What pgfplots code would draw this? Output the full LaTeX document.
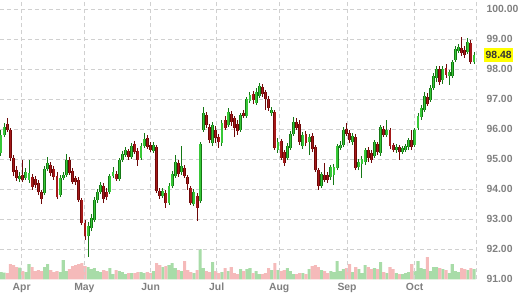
\documentclass[border=0pt]{standalone}
\usepackage{pgfplots}
\pgfplotsset{compat=1.18}
\usepackage{pgfplotstable}
\usepackage{fontspec}
\setmainfont{Liberation Sans}
\definecolor{upout}{RGB}{20,120,20}
\definecolor{upin}{RGB}{55,200,55}
\definecolor{dnout}{RGB}{110,8,8}
\definecolor{dnin}{RGB}{165,25,25}
\definecolor{volup}{RGB}{168,220,168}
\definecolor{voldn}{RGB}{245,186,186}
\definecolor{gridc}{RGB}{208,208,208}
\definecolor{labc}{RGB}{128,128,128}
\definecolor{hl}{RGB}{255,255,0}

% up candles: index, open, high, low, close, volume
\pgfplotstableread{
x o h l c v
0 95.21 95.98 95.11 95.81 7200
1 95.81 96.21 95.74 96.08 6800
6 94.34 94.58 94.24 94.44 11800
8 94.38 94.71 94.31 94.58 7100
9 94.31 94.98 94.21 94.54 15200
14 93.88 94.78 93.81 94.68 12100
15 94.68 95.08 94.61 94.88 15300
19 93.81 94.48 93.74 94.38 7200
20 94.38 94.58 94.31 94.48 19100
21 94.48 95.18 94.41 94.98 8300
28 92.44 92.91 91.74 92.78 12200
29 92.71 93.18 92.61 93.04 10100
30 92.98 93.74 92.91 93.64 11200
31 93.64 94.01 93.54 93.91 8100
32 93.91 94.24 93.84 94.14 7300
35 93.91 94.51 93.84 94.44 11100
36 94.44 94.74 94.38 94.58 5200
38 94.34 95.04 94.28 94.98 8200
39 94.98 95.28 94.91 95.18 7100
40 95.14 95.41 95.08 95.31 5300
42 95.08 95.54 95.01 95.44 6200
45 95.04 95.54 94.98 95.44 7300
46 95.44 95.88 95.38 95.68 6100
49 95.28 95.58 95.21 95.48 8100
52 93.78 94.04 93.71 93.94 12200
54 93.54 94.21 93.48 94.11 14100
55 94.11 94.61 94.04 94.51 16200
56 94.44 95.14 94.38 94.91 11100
58 94.58 95.44 94.48 94.78 8200
62 93.51 94.01 93.44 93.91 6200
64 93.61 95.58 93.54 95.51 30200
65 95.98 96.74 95.91 96.54 11300
68 95.54 96.24 95.44 96.14 17100
71 95.54 96.31 95.44 96.21 7200
73 96.14 96.71 96.08 96.58 8100
77 95.98 96.54 95.91 96.48 10200
79 96.44 97.08 96.38 97.01 10100
80 96.94 97.24 96.88 97.14 11200
82 96.88 97.38 96.81 97.24 8100
83 97.11 97.54 97.04 97.44 5200
87 96.54 96.74 96.44 96.64 9200
89 95.31 95.71 95.21 95.58 9100
92 95.04 95.54 94.98 95.44 11100
93 95.38 95.94 95.31 95.84 8200
94 95.84 96.41 95.78 96.24 5300
97 95.44 95.91 95.34 95.81 6100
99 95.58 95.84 95.14 95.74 10200
103 94.11 94.58 94.04 94.51 9100
106 94.41 94.81 94.31 94.74 8200
107 94.48 94.84 94.14 94.74 7200
108 94.71 95.51 94.64 95.44 18200
109 95.38 95.61 95.31 95.48 8100
110 95.48 96.08 95.41 95.98 10200
113 95.58 95.88 95.48 95.78 7100
115 94.74 95.01 94.64 94.91 10200
116 94.84 95.11 94.38 95.01 6200
117 94.91 95.38 94.81 95.31 14100
120 95.11 95.64 95.04 95.58 11200
122 95.21 96.14 95.11 96.08 17200
124 95.81 96.31 95.74 95.98 6100
127 95.31 95.51 95.21 95.41 6200
129 95.24 95.44 95.18 95.38 5100
130 95.31 95.51 95.24 95.44 6200
131 95.41 95.71 95.31 95.64 7100
133 95.48 96.04 95.41 95.98 8200
134 96.04 96.54 95.98 96.44 18100
135 96.41 96.81 96.31 96.71 11200
136 96.64 97.24 96.58 97.11 10100
138 96.98 97.48 96.91 97.38 8200
139 97.38 97.88 97.31 97.78 12100
140 97.71 98.11 97.58 98.01 12200
142 97.64 98.11 97.51 98.01 10100
144 97.78 97.98 97.48 97.91 6200
145 97.78 98.31 97.71 98.24 15100
146 98.31 98.78 98.24 98.68 8200
147 98.61 98.84 98.54 98.74 7100
150 98.58 99.04 98.51 98.91 9200
152 98.24 98.58 98.18 98.48 10100
}\up

% down candles: index, open, high, low, close, volume
\pgfplotstableread{
x o h l c v
2 96.18 96.38 95.91 95.98 6100
3 95.98 96.04 94.94 95.04 15100
4 95.04 95.14 94.44 94.58 14200
5 94.64 94.78 94.28 94.38 12100
7 94.48 94.98 94.24 94.31 8200
10 94.41 94.51 93.98 94.08 12200
11 94.34 94.44 94.04 94.14 8100
12 94.21 94.31 93.81 93.91 9200
13 93.91 93.98 93.51 93.68 8100
16 94.81 94.91 94.44 94.54 9100
17 94.68 94.78 94.31 94.41 7200
18 94.44 94.58 93.68 93.74 8100
22 94.98 95.08 94.48 94.54 10200
23 94.61 94.71 94.18 94.24 13100
24 94.38 94.44 94.14 94.24 14200
25 94.31 94.41 93.58 93.64 15100
26 93.64 93.71 92.81 92.88 16200
27 92.88 92.98 92.31 92.44 13200
33 94.11 94.21 93.54 93.68 9100
34 93.91 94.04 93.64 93.74 8200
37 94.51 94.61 94.28 94.34 9200
41 95.28 95.34 94.98 95.08 6100
43 95.51 95.61 95.18 95.24 6200
44 95.28 95.38 94.78 94.98 7100
47 95.71 95.81 95.34 95.41 7200
48 95.48 95.58 95.24 95.31 6100
50 95.41 95.48 93.88 93.94 16100
51 93.94 94.04 93.68 93.78 14200
53 93.88 93.98 93.38 93.54 13100
57 94.88 94.98 94.41 94.51 9100
59 94.71 94.81 94.38 94.44 18200
60 94.41 94.48 93.98 94.18 9100
61 94.04 94.11 93.48 93.54 7200
63 93.78 93.88 92.94 93.38 9100
66 96.48 96.58 96.04 96.14 8200
67 96.08 96.18 95.54 95.64 7100
69 95.98 96.11 95.54 95.71 8100
70 95.74 95.84 95.38 95.58 6200
72 96.31 96.44 95.98 96.04 11100
74 96.51 96.61 96.11 96.24 12200
75 96.38 96.44 95.74 96.04 6100
76 96.18 96.31 95.81 95.94 5200
78 96.54 96.64 96.38 96.44 8100
81 97.18 97.28 96.84 96.98 6200
84 97.41 97.51 97.08 97.18 5100
85 97.24 97.31 96.64 97.01 6200
86 97.01 97.11 96.61 96.71 11100
88 96.58 96.64 95.31 95.38 16200
90 95.61 95.68 94.98 95.04 8100
91 95.24 95.31 94.78 94.88 9200
95 96.24 96.38 95.98 96.04 5100
96 96.18 96.31 95.48 95.58 6200
98 95.84 95.94 95.44 95.54 5100
100 95.78 95.88 95.24 95.34 13100
101 95.41 95.48 94.58 94.64 14200
102 94.64 94.71 93.98 94.11 12100
104 94.48 94.88 94.24 94.31 8100
105 94.48 94.58 94.21 94.31 6200
111 96.01 96.21 95.78 95.84 11100
112 95.88 95.98 95.54 95.64 15200
114 95.74 95.84 94.64 94.71 12100
118 95.31 95.41 94.91 95.04 12200
119 95.21 95.31 94.88 94.98 10100
121 95.51 95.58 95.14 95.24 10200
123 96.01 96.11 95.74 95.81 7100
125 95.98 96.04 95.34 95.44 12100
126 95.48 95.54 95.24 95.31 10200
128 95.41 95.48 94.98 95.24 5200
132 95.64 95.98 95.31 95.41 15100
137 97.08 97.21 96.78 96.84 22100
141 98.01 98.11 97.48 97.58 11100
143 98.04 98.18 97.71 97.81 9100
148 98.71 99.08 98.44 98.54 11200
149 98.64 98.78 98.38 98.48 10100
151 98.88 98.98 98.18 98.24 11100
}\dn

\pgfplotsset{
  base/.style={scale only axis, width=476.7pt, height=279.3pt,
    at={(0,0)}, anchor=south west, xmin=-0.32, xmax=152.86},
}

\begin{document}
\begin{tikzpicture}
\useasboundingbox (0,-20.7pt) rectangle (526pt,279.3pt);
% volume
\begin{axis}[base, ymin=0, ymax=279300, hide axis]
\addplot[ybar, bar width=1, bar shift=0pt, fill=volup, draw=none] table[x=x,y=v]{\up};
\addplot[ybar, bar width=1, bar shift=0pt, fill=voldn, draw=none] table[x=x,y=v]{\dn};
\end{axis}
% price
\begin{axis}[base, ymin=91, ymax=100.31,
  axis line style={draw=none}, major tick length=0pt, tick style={draw=none},
  ytick={92,93,...,100}, extra y ticks={91}, extra y tick style={grid=none},
  xtick={6.65,26.8,48.1,69.3,89.4,111.2,132.9},
  xticklabels={Apr,May,Jun,Jul,Aug,Sep,Oct},
  extra x ticks={152.86}, extra x tick labels={}, extra x tick style={grid=major},
  grid=major,
  major grid style={draw=gridc, line width=0.8pt, dash pattern=on 4pt off 3pt},
  yticklabel pos=right,
  /pgf/number format/assume math mode=true,
  tick label style={font=\bfseries\fontsize{10.4}{12}\selectfont, text=labc},
  yticklabel style={anchor=west, xshift=6.3pt,
    /pgf/number format/.cd, fixed, fixed zerofill, precision=2, assume math mode=true},
  xticklabel style={yshift=-0.5pt},
  after end axis/.code={
    \node[fill=hl, text=black!80, anchor=west, xshift=7.3pt,
      font=\bfseries\fontsize{10.4}{12}\selectfont,
      inner xsep=1.5pt, inner ysep=2.9pt, text height=7.6pt, text depth=0pt]
      at (axis cs:152.86,98.48) {98.48};
  },
]
\addplot[upout, line width=1pt, quiver={u=0, v=\thisrow{h}-\thisrow{l}}] table[x=x, y=l]{\up};
\addplot[upout, line width=2.9pt, quiver={u=0, v=\thisrow{c}-\thisrow{o}}] table[x=x, y=o]{\up};
\addplot[upin, line width=1.4pt, quiver={u=0, v=\thisrow{c}-\thisrow{o}}] table[x=x, y=o]{\up};
\addplot[dnout, line width=1pt, quiver={u=0, v=\thisrow{h}-\thisrow{l}}] table[x=x, y=l]{\dn};
\addplot[dnout, line width=2.9pt, quiver={u=0, v=\thisrow{o}-\thisrow{c}}] table[x=x, y=c]{\dn};
\addplot[dnin, line width=1.4pt, quiver={u=0, v=\thisrow{o}-\thisrow{c}}] table[x=x, y=c]{\dn};
\end{axis}
\end{tikzpicture}
\end{document}
